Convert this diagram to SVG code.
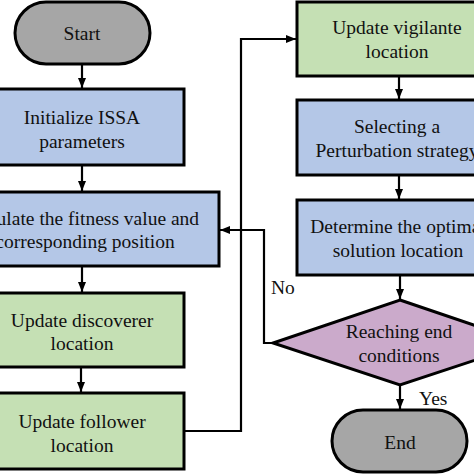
<svg xmlns="http://www.w3.org/2000/svg" width="474" height="474" viewBox="0 0 474 474">
<defs>
<marker id="ah" markerUnits="userSpaceOnUse" markerWidth="10" markerHeight="8" refX="10" refY="4" orient="auto">
<path d="M0,0 L10,4 L0,8 z" fill="#000"/>
</marker>
<style>
text{font-family:"Liberation Serif","Times New Roman",serif;font-size:19.5px;fill:#111;text-anchor:middle}
.term{fill:#a6a6a6;stroke:#000;stroke-width:3}
.blue{fill:#b4c7e7;stroke:#000;stroke-width:3}
.green{fill:#c5e0b4;stroke:#000;stroke-width:3}
.dec{fill:#cbaacb;stroke:#000;stroke-width:3}
.c{fill:none;stroke:#000;stroke-width:2.2}
.lbl{text-anchor:start}
</style>
</defs>
<rect width="474" height="474" fill="#fff"/>
<g id="connectors">
<line class="c" x1="82" y1="64" x2="82" y2="88" marker-end="url(#ah)"/>
<line class="c" x1="82" y1="166" x2="82" y2="191" marker-end="url(#ah)"/>
<line class="c" x1="82" y1="267" x2="82" y2="292" marker-end="url(#ah)"/>
<line class="c" x1="81" y1="368" x2="81" y2="392" marker-end="url(#ah)"/>
<polyline class="c" points="185,431 241,431 241,39 296,39" marker-end="url(#ah)"/>
<line class="c" x1="399" y1="77" x2="399" y2="99" marker-end="url(#ah)"/>
<line class="c" x1="399" y1="176" x2="399" y2="199" marker-end="url(#ah)"/>
<line class="c" x1="400" y1="276" x2="400" y2="299" marker-end="url(#ah)"/>
<polyline class="c" points="273,343 264,343 264,230 220,230" marker-end="url(#ah)"/>
<line class="c" x1="400" y1="385" x2="400" y2="409" marker-end="url(#ah)"/>
<text class="lbl" x="271" y="294">No</text>
<text class="lbl" x="419" y="405">Yes</text>
</g>
<g id="start">
<rect class="term" x="15" y="2" width="135" height="62" rx="31" ry="31"/>
<text x="82" y="40">Start</text>
</g>
<g id="init">
<rect class="blue" x="-20" y="89" width="204" height="76"/>
<text x="82" y="124">Initialize ISSA</text>
<text x="82" y="148">parameters</text>
</g>
<g id="fitness">
<rect class="blue" x="-55" y="192" width="274" height="74"/>
<text x="80" y="225">Calculate the fitness value and</text>
<text x="85" y="248">corresponding position</text>
</g>
<g id="discoverer">
<rect class="green" x="-20" y="293" width="204" height="74"/>
<text x="82" y="327">Update discoverer</text>
<text x="82" y="350">location</text>
</g>
<g id="follower">
<rect class="green" x="-20" y="393" width="204" height="76"/>
<text x="82" y="428">Update follower</text>
<text x="82" y="452">location</text>
</g>
<g id="vigilante">
<rect class="green" x="297" y="2" width="210" height="74"/>
<text x="397" y="34">Update vigilante</text>
<text x="397" y="58">location</text>
</g>
<g id="perturbation">
<rect class="blue" x="297" y="100" width="210" height="75"/>
<text x="397" y="133">Selecting a</text>
<text x="397" y="157">Perturbation strategy</text>
</g>
<g id="optimal">
<rect class="blue" x="297" y="200" width="210" height="75"/>
<text x="398" y="233">Determine the optimal</text>
<text x="398" y="257">solution location</text>
</g>
<g id="decision">
<polygon class="dec" points="400,300 527,343 400,385 273,343"/>
<text x="399" y="338">Reaching end</text>
<text x="399" y="362">conditions</text>
</g>
<g id="end">
<rect class="term" x="332" y="410" width="135" height="62" rx="31" ry="31"/>
<text x="400" y="449">End</text>
</g>
</svg>
